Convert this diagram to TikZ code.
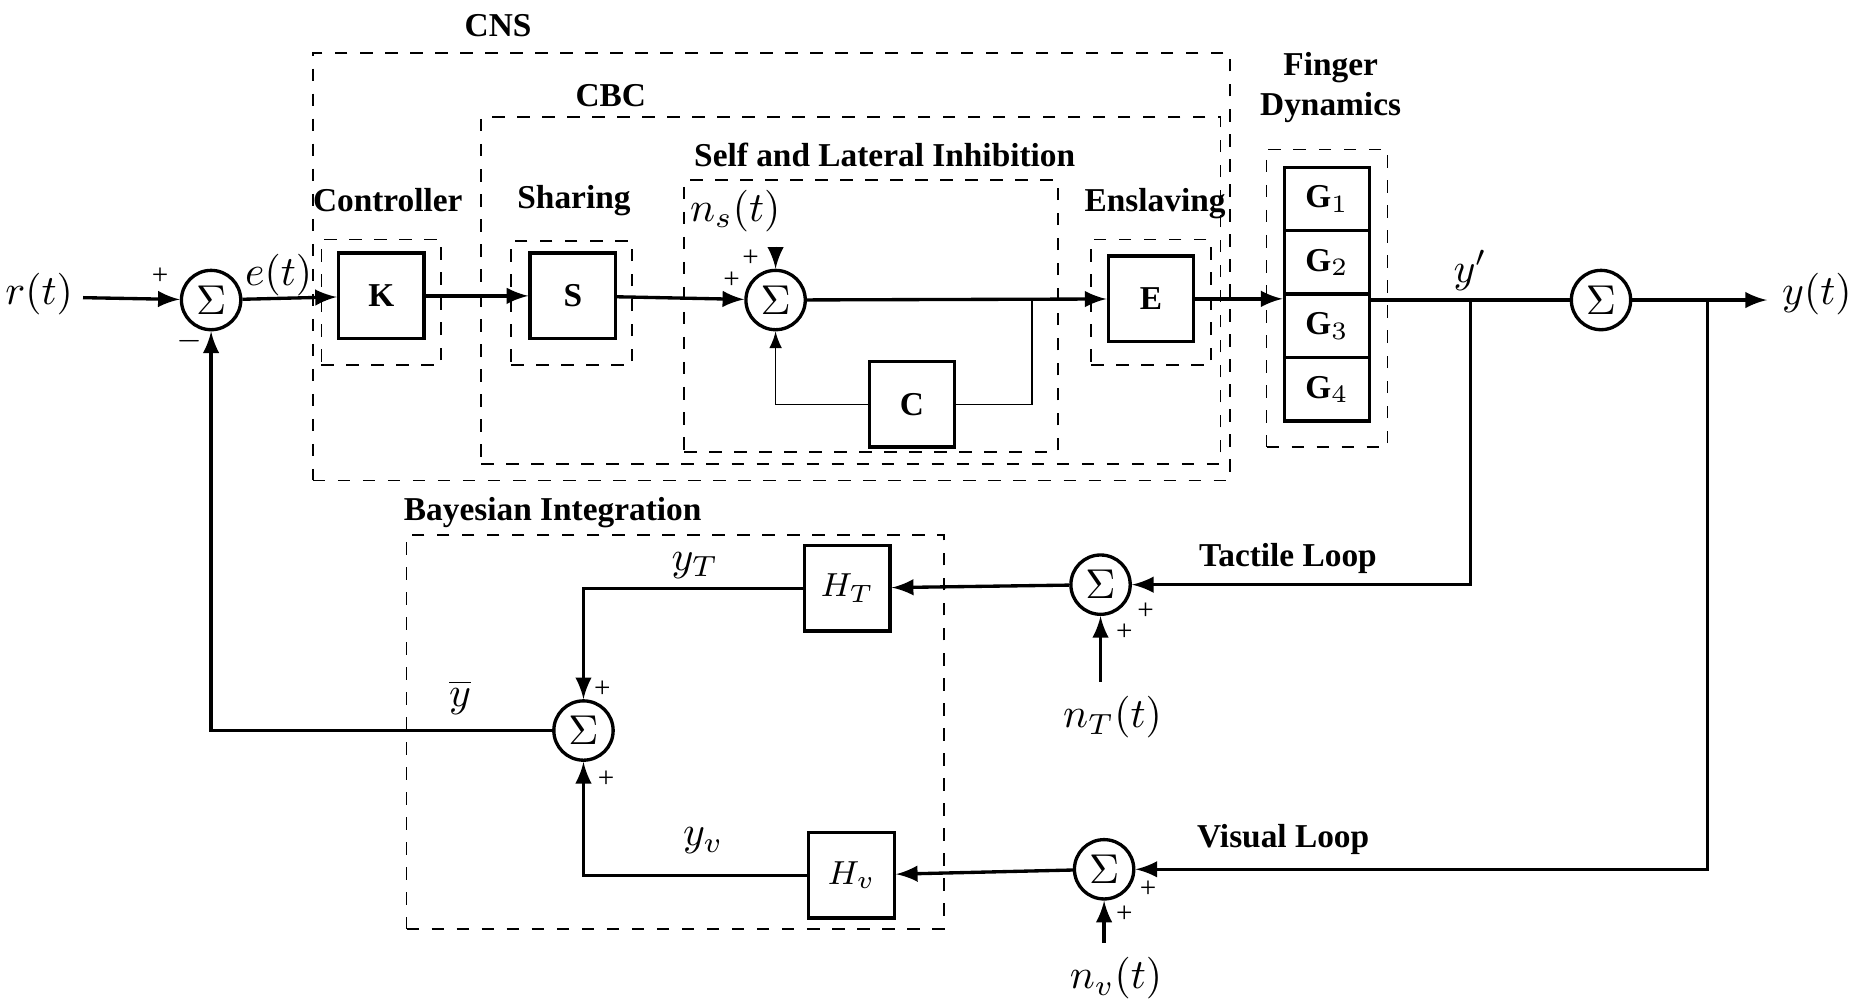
\documentclass[tikz,border=0pt]{standalone}
\usepackage{fontspec}
\setmainfont{Liberation Serif}
\usetikzlibrary{positioning}
\tikzset{
  sum/.style={draw, circle, thick, minimum size=0.5cm, inner sep=0pt, font=\normalsize},
  blk/.style={draw, thick, minimum size=0.72cm, inner sep=0pt, font=\footnotesize\bfseries},
  grp/.style={draw, dashed},
  ttl/.style={font=\footnotesize\bfseries},
  sig/.style={font=\normalsize},
  pm/.style={font=\scriptsize},
  lnk/.style={thick, -latex}
}
\begin{document}
\begin{tikzpicture}[x=0.01cm, y=-0.01cm]
    \useasboundingbox (0,0) rectangle (1565,843);

    % groups
    \node[grp, minimum width=7.73cm, minimum height=3.60cm] (CNS) at (650.5,225) {};
    \node[ttl] at (420,22) {CNS};
    \node[grp, minimum width=6.23cm, minimum height=2.92cm] (CBC) at (717.5,245) {};
    \node[ttl] at (515,81) {CBC};
    \node[grp, minimum width=3.15cm, minimum height=2.29cm] (SLI) at (734.5,266.5) {};
    \node[ttl] at (746,131) {Self and Lateral Inhibition};
    \node[grp, minimum width=4.53cm, minimum height=3.32cm] (BI) at (569.5,617) {};
    \node[ttl] at (466,432) {Bayesian Integration};

    % blocks
    \node[blk] (K) at (321.5,249.5) {K};
    \node[grp, minimum width=1.01cm, minimum height=1.06cm] at (321.5,255) {};
    \node[ttl] at (327,169) {Controller};
    \node[blk] (S) at (483,249.5) {S};
    \node[grp, minimum width=1.02cm, minimum height=1.05cm] at (482,255.5) {};
    \node[ttl] at (484,169) {Sharing};
    \node[blk] (E) at (970.5,252) {E};
    \node[grp, minimum width=1.01cm, minimum height=1.06cm] at (970.5,255) {};
    \node[ttl] at (974,172) {Enslaving};
    \node[blk] (C) at (769,341) {C};

    % finger dynamics
    \node[grp, minimum width=1.02cm, minimum height=2.51cm] at (1119,251.5) {};
    \node[ttl, align=center] at (1122,74) {Finger\\Dynamics};
    \foreach \i in {1,...,4}
      \node[draw, thick, minimum width=0.72cm, minimum height=0.535cm, inner sep=0pt, font=\footnotesize\bfseries]
        (G\i) at (1119,{141+26.75+53.5*(\i-1)}) {G$_{\i}$};

    % sums
    \node[sum] (s1) at (178,253) {$\Sigma$};
    \node[sum] (s2) at (654,253) {$\Sigma$};
    \node[sum] (s3) at (1350,253) {$\Sigma$};
    \node[sum] (s4) at (928,493) {$\Sigma$};
    \node[sum] (s5) at (492,616) {$\Sigma$};
    \node[sum] (s6) at (931,733) {$\Sigma$};

    \node[blk] (HT) at (714.5,496) {$H_T$};
    \node[blk] (Hv) at (718,738) {$H_v$};

    % signals
    \node[sig] (r) at (33,248) {$r(t)$};
    \node[sig] (y) at (1532,248) {$y(t)$};
    \node[sig] at (235,232) {$e(t)$};
    \node[sig] at (1240,228) {$y'$};
    \node[sig] (ns) at (620,178) {$n_s(t)$};
    \node[sig] (nT) at (938,605) {$n_T(t)$};
    \node[sig] (nv) at (941,825) {$n_v(t)$};
    \node[sig] at (586,477) {$y_T$};
    \node[sig] at (593,709) {$y_v$};
    \node[sig] at (388,588) {$\overline{y}$};
    \node[ttl] at (1086,471) {Tactile Loop};
    \node[ttl] at (1082,708) {Visual Loop};

    \node[pm] at (135,233) {+};
    \node[pm] at (160,288) {$-$};
    \node[pm] at (633,218) {+};
    \node[pm] at (617,236) {+};
    \node[pm] at (966,515) {+};
    \node[pm] at (948,533) {+};
    \node[pm] at (508,581) {+};
    \node[pm] at (511,657) {+};
    \node[pm] at (968,750) {+};
    \node[pm] at (948,771) {+};

    % forward path
    \coordinate (rin) at (70,251);
    \draw[lnk] (rin) -- (s1);
    \draw[lnk] (s1) -- (K);
    \draw[lnk] (K) -- (S);
    \draw[lnk] (S) -- (s2);
    \draw[lnk] (s2) -- (E);
    \draw[lnk] (E.east) -- (G2.west |- E.east);
    \draw[thick] (G2.east |- s3) -- (s3);
    \coordinate (yout) at (1490,253);
    \draw[lnk] (s3) -- (yout);
    \draw[lnk] (ns.south -| s2) -- (s2);

    % lateral inhibition loop
    \coordinate (fb1) at (870,253);
    \draw (fb1) |- (C);
    \draw[-latex] (C) -| (s2);

    % tactile loop
    \coordinate (tp) at (1240,253);
    \draw[lnk] (tp) |- (s4);
    \draw[lnk] (nT.north -| s4) -- (s4);
    \draw[lnk] (s4) -- (HT);
    \draw[lnk] (HT.west) -| (s5.north);

    % visual loop
    \coordinate (vp) at (1440,253);
    \draw[lnk] (vp) |- (s6);
    \draw[lnk] (nv.north -| s6) -- (s6);
    \draw[lnk] (s6) -- (Hv);
    \draw[lnk] (Hv.west) -| (s5.south);

    % feedback
    \draw[lnk] (s5) -| (s1);
\end{tikzpicture}
\end{document}
